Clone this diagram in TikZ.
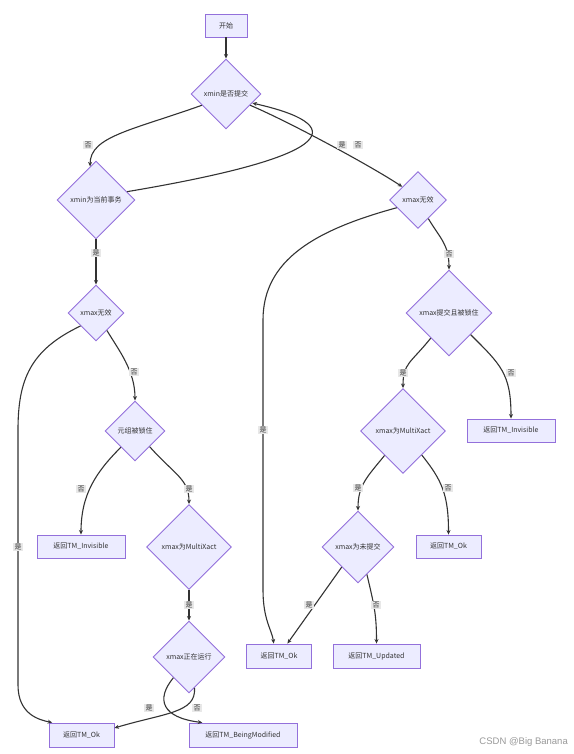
\documentclass[tikz,border=0pt]{standalone}
\usepackage{fontspec}
\setmainfont{Noto Sans CJK SC}
\newfontfamily\wmfont{Liberation Sans}
\usetikzlibrary{shapes.geometric,arrows.meta}
\definecolor{nodefill}{HTML}{ECECFF}
\definecolor{nodeline}{HTML}{9370DB}
\definecolor{edgeline}{HTML}{333333}
\definecolor{lblfill}{HTML}{E8E8E8}
\definecolor{txt}{HTML}{333333}
\tikzset{
  box/.style={draw=nodeline, fill=nodefill, line width=0.9pt, minimum height=23pt, inner sep=0pt, font=\fontsize{7}{8}\selectfont, text=txt},
  dia/.style={draw=nodeline, fill=nodefill, line width=0.9pt, shape=diamond, aspect=1, inner sep=0pt, minimum width=#1, minimum height=#1, font=\fontsize{7}{8}\selectfont, text=txt},
  edge/.style={draw=edgeline, line width=1.1pt, -{Stealth[length=4.5pt,width=4pt]}},
  lbl/.style={fill=lblfill, inner sep=1.2pt, font=\fontsize{7}{8}\selectfont, text=txt}
}
\begin{document}
\begin{tikzpicture}[x=1pt,y=1pt]
\fill[white] (0,0) rectangle (573,-754);
\useasboundingbox (0,0) rectangle (573,-754);

% nodes
\node[box, minimum width=42pt] (start) at (226,-25.5) {开始};
\node[dia=70pt] (d1) at (226,-94) {xmin是否提交};
\node[dia=78pt] (d2) at (96,-200) {xmin为当前事务};
\node[dia=57pt] (d3) at (418,-200) {xmax无效};
\node[dia=56pt] (d4) at (96,-313) {xmax无效};
\node[dia=60pt] (d5) at (135,-431) {元组被锁住};
\node[dia=85pt] (d6) at (189,-547) {xmax为MultiXact};
\node[dia=72pt] (d7) at (189,-657) {xmax正在运行};
\node[dia=86pt] (d8) at (449,-313) {xmax提交且被锁住};
\node[dia=85pt] (d9) at (403,-431) {xmax为MultiXact};
\node[dia=72pt] (d10) at (358,-547) {xmax为未提交};

\node[box, minimum width=88pt] (inv1) at (81,-546.5) {返回TM\_Invisible};
\node[box, minimum width=65pt, minimum height=24pt] (ok1) at (81.5,-735) {返回TM\_Ok};
\node[box, minimum width=108pt, minimum height=24pt] (bm) at (243,-735) {返回TM\_BeingModified};
\node[box, minimum width=65pt, minimum height=24pt] (okm) at (279,-656) {返回TM\_Ok};
\node[box, minimum width=88pt] (inv2) at (511,-430.5) {返回TM\_Invisible};
\node[box, minimum width=65pt] (okr) at (448.5,-546.5) {返回TM\_Ok};
\node[box, minimum width=87pt, minimum height=24pt] (upd) at (376.5,-656) {返回TM\_Updated};

% edges
\draw[edge] (start.south) -- (d1.north);
\draw[edge] (d1.205) .. controls +(-70,-25) and +(0,30) .. (d2.100);
\draw[edge] (d2.15) .. controls +(220,37) and +(93,-21) .. (d1.-19);
\draw[edge] (d1.-25) .. controls +(40,-17) and +(-30,20) .. (d3.140);
\draw[edge] (d2.south) -- (d4.north);
\draw[edge] (d4.-58) .. controls +(12,-20) and +(0,30) .. (d5.north);
\draw[edge] (d4.220) .. controls (30,-350) and (18,-380) .. (18,-430) -- (18,-685) .. controls (18,-715) and (40,-720) .. (ok1.157);
\draw[edge] (d5.229) .. controls +(-25,-25) and +(0,40) .. (inv1.north);
\draw[edge] (d5.-47) .. controls +(25,-28) and +(0,25) .. (d6.north);
\draw[edge] (d6.south) -- (d7.north);
\draw[edge] (d7.233) .. controls +(-18,-22) and +(-40,5) .. (bm.163);
\draw[edge] (d7.-80) .. controls +(2,-25) and +(50,15) .. (ok1.12);
\draw[edge] (d3.-61) .. controls +(12,-20) and +(0,25) .. (d8.north);
\draw[edge] (d3.200) .. controls (315,-230) and (263,-260) .. (263,-320) -- (263,-590) .. controls (263,-620) and (272,-630) .. (okm.113);
\draw[edge] (d8.234) .. controls +(-20,-25) and +(0,25) .. (d9.north);
\draw[edge] (d8.-45) .. controls +(30,-30) and +(0,45) .. (inv2.north);
\draw[edge] (d9.233) .. controls +(-18,-22) and +(0,25) .. (d10.north);
\draw[edge] (d9.-52) .. controls +(20,-25) and +(0,40) .. (okr.north);
\draw[edge] (d10.231) -- (okm.56);
\draw[edge] (d10.-72) .. controls +(7,-30) and +(0,30) .. (upd.north);

% labels
\node[lbl] (l1) at (88,-145) {否};
\node[lbl] (l2) at (342,-145) {是};
\node[lbl] (l3) at (358,-145) {否};
\node[lbl] (l4) at (96,-253) {是};
\node[lbl] (l5) at (134,-372) {否};
\node[lbl] (l6) at (18,-547) {是};
\node[lbl] (l7) at (81,-489) {否};
\node[lbl] (l8) at (189,-489) {是};
\node[lbl] (l9) at (189,-605) {是};
\node[lbl] (l10) at (149,-708) {是};
\node[lbl] (l11) at (197,-708) {否};
\node[lbl] (l12) at (449,-254) {否};
\node[lbl] (l13) at (263,-430) {是};
\node[lbl] (l14) at (403,-373) {是};
\node[lbl] (l15) at (511,-373) {否};
\node[lbl] (l16) at (358,-488) {是};
\node[lbl] (l17) at (448,-488) {否};
\node[lbl] (l18) at (309,-605) {是};
\node[lbl] (l19) at (376,-605) {否};

\node[font=\wmfont\fontsize{9.5}{10}\selectfont, text=black!40, anchor=east, inner sep=0pt] (wm) at (568,-742) {CSDN @Big Banana};
\end{tikzpicture}
\end{document}
